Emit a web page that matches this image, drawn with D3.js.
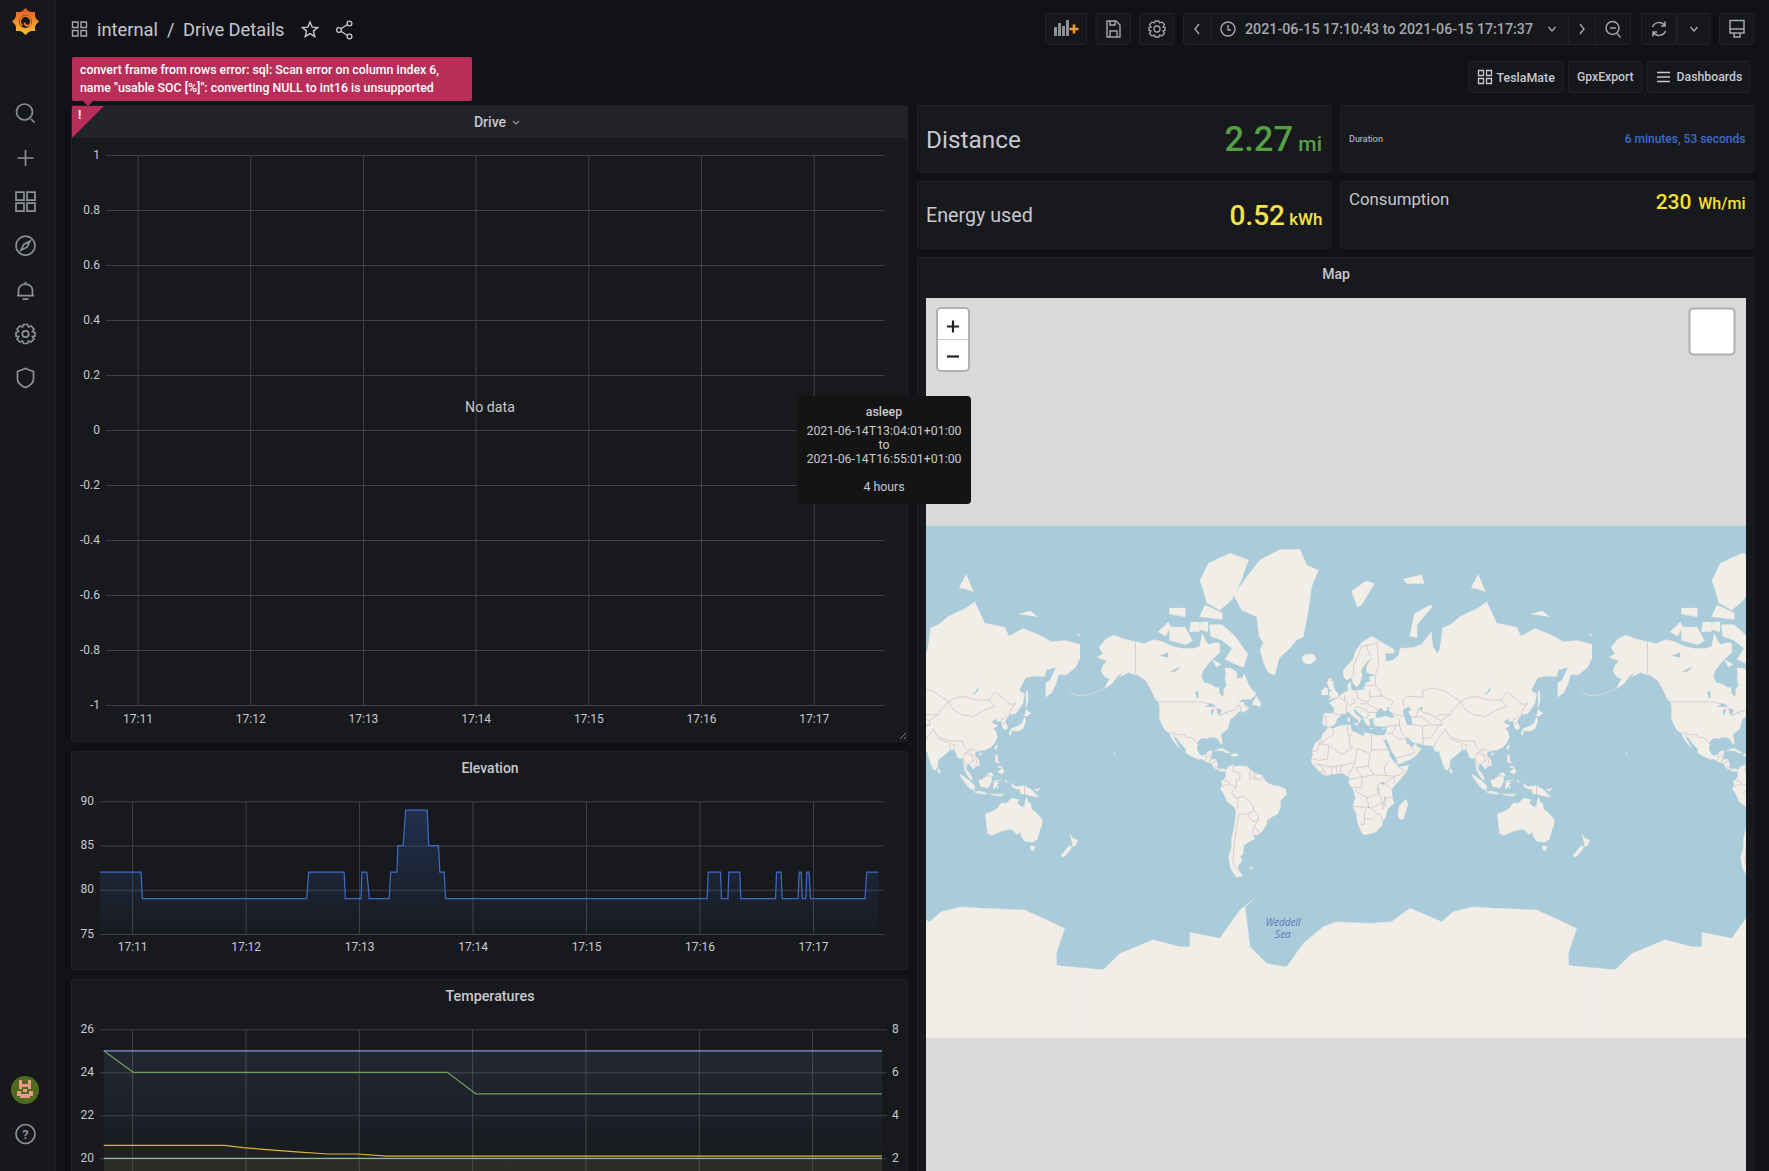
<!DOCTYPE html>
<html>
<head>
<meta charset="utf-8">
<title>Drive Details</title>
<script src="https://cdnjs.cloudflare.com/ajax/libs/d3/7.8.5/d3.min.js"></script>
<style>
  html, body { margin: 0; padding: 0; background: #111217; overflow: hidden; }
  svg { display: block; }
  text { font-family: Roboto, sans-serif; fill: #c7c8d0; }
  .tick text { font-size: 12px; fill: #c7c8d0; }
  .tick line { stroke: #404146; }
  .domain { display: none; }
</style>
</head>
<body>
<svg id="page" width="1769" height="1171"></svg>
<script>
// time range of the dashboard, all series are seconds after rangeStart
const rangeStart = Date.UTC(2021, 5, 15, 17, 10, 43);
const rangeEnd = Date.UTC(2021, 5, 15, 17, 17, 37);
const minuteTicks = [11, 12, 13, 14, 15, 16, 17].map(m => Date.UTC(2021, 5, 15, 17, m, 0));

const driveTicks = [1, 0.8, 0.6, 0.4, 0.2, 0, -0.2, -0.4, -0.6, -0.8, -1];

const elevationTicks = [75, 80, 85, 90];
const elevationSec = [0, 21.7, 22.4, 109.3, 110.3, 129.1, 129.7, 138, 138.5, 141.1, 142.4, 152.9, 153.7, 157, 157.5,
  160.3, 161.6, 173, 173.8, 179, 179.7, 182, 182.7, 321, 321.6, 328.1, 328.6, 332, 332.5, 338.3, 338.8, 357.2, 357.7,
  360.1, 360.7, 369.1, 369.7, 370.7, 371.4, 373.2, 373.7, 374.9, 375.7, 404.5, 405.4, 411.6];
const elevationVal = [82, 82, 79, 79, 82, 82, 79, 79, 82, 82, 79, 79, 82, 82, 85,
  85, 89, 89, 85, 85, 82, 82, 79, 79, 82, 82, 79, 79, 82, 82, 79, 79, 82,
  82, 79, 79, 82, 82, 79, 79, 82, 82, 79, 79, 82, 82];

const tempLeftTicks = [20, 22, 24, 26];
const tempRightTicks = [2, 4, 6, 8];
const tempBlueSec = [2, 414];
const tempBlueVal = [25, 25];
const tempGreenSec = [2, 17.6, 183.9, 199, 414];
const tempGreenVal = [25, 24, 24, 23, 23];
const tempYellowSec = [2, 66, 75.7, 88.3, 104, 120.7, 136.6, 151.8, 414];
const tempYellowVal = [20.6, 20.6, 20.5, 20.4, 20.3, 20.2, 20.2, 20.1, 20.1];
const tempTealSec = [2, 414];
const tempTealVal = [20, 20];

// map outlines, lon/lat
const northAmerica = [[-168,65.6],[-164,66.5],[-166.5,68.3],[-162,70.3],[-156.5,71.3],[-150,70.5],[-141,69.7],[-135,69.3],[-128,70.2],[-122,69.8],[-115,68.5],[-108,68],[-100,68],[-96,68.5],[-94,71.5],[-90,69],[-85,69.5],[-82,69.5],[-81.5,67],[-87,65],[-90,63.5],[-94,61],[-94.5,58.8],[-92.5,57],[-88,56.5],[-85,55.3],[-82.3,55],[-82,52.9],[-80,51.3],[-79,52],[-79,54.5],[-77,56],[-78,58.5],[-77.5,60],[-78,62.4],[-73,62],[-70,61],[-69.5,58.8],[-66,58.8],[-64.5,60.3],[-61.5,56.5],[-60,55],[-56,52.5],[-60,50.2],[-66,50.2],[-69,48.5],[-65,49],[-64.5,47.5],[-61,46],[-64,44.5],[-66,43.7],[-66,45],[-69,44],[-70.5,42.5],[-74,40.5],[-75.5,37.5],[-76,35],[-78,33.8],[-81,31.5],[-80,26.5],[-80.5,25.2],[-82,27],[-83,29],[-85,29.7],[-89,30.2],[-90,29.2],[-94,29.6],[-97.2,27.5],[-97.8,22.5],[-96,19],[-94,18.2],[-91,18.7],[-90.5,21],[-87,21.5],[-88,17.5],[-88.5,15.8],[-84,15.8],[-83.3,12],[-83.5,10],[-81,8.8],[-79.5,9.5],[-77.5,8.6],[-78.2,7.5],[-80,7.3],[-83,8.3],[-85.8,10],[-87.6,13],[-91.5,14],[-94.5,16.2],[-97,15.8],[-102,18],[-105.5,20],[-105.5,22.5],[-109,26],[-112.5,30],[-114.7,31.7],[-112.5,27.5],[-110,23],[-112,25],[-115,28.5],[-117.2,32.6],[-120.5,34.5],[-122.5,37.8],[-124.2,40.3],[-124,46.3],[-124.7,48.4],[-123,49],[-127.5,51],[-130.3,54.5],[-134,58],[-139.5,59.7],[-146,60.8],[-149,60],[-151.7,59.3],[-150,61],[-153.5,59.5],[-158,56.5],[-163,54.7],[-159,58.5],[-162,59],[-165,61],[-164,63],[-161,64.5]];
const southAmerica = [[-77.5,8.6],[-75.5,10.8],[-72,12],[-71.5,10.8],[-68,11.3],[-62,10.7],[-60,8.5],[-57,6],[-52,4.7],[-50,1],[-48,-0.7],[-44,-2.5],[-40,-3],[-35.2,-5.3],[-35,-8.5],[-39,-13],[-39.2,-18],[-41,-22],[-45,-23.7],[-48.5,-26],[-49,-29],[-53,-33.7],[-56,-35],[-58.5,-34.3],[-57,-37],[-62,-39],[-65,-41],[-65.3,-45],[-67.5,-46.5],[-66,-48],[-69,-51],[-68.5,-52.5],[-65.5,-55],[-70,-55.5],[-74,-52],[-75.5,-47],[-73.5,-42],[-73.5,-37],[-71.5,-30],[-70.3,-20],[-72,-17],[-76.2,-14],[-79,-8],[-81.3,-5],[-80,-2.5],[-80.7,0],[-78.5,2],[-77.3,4],[-77.5,7]];
const africa = [[-5.9,35.8],[-2,35.2],[3,36.9],[10,37.3],[11,34],[15,32.4],[19.5,30.5],[20,32.7],[25,32],[29,31],[32.3,31.2],[32.5,30],[33.8,27],[35.5,24],[37.2,21],[37.5,18.5],[39.5,15.5],[43,12],[43.3,11.5],[44.5,10.5],[51.2,11.8],[50,8],[47,4],[42,-1.5],[39.2,-5],[39.5,-10],[40.7,-15],[36,-19],[35,-24],[32.8,-26],[32.5,-29],[28,-33],[25,-34],[20,-34.8],[18.3,-34],[15,-27],[14.5,-22],[11.8,-17],[13.7,-11],[12,-5],[9,-1],[9.7,3.5],[7,4.5],[4.5,6.3],[1,6],[-4,5.2],[-7.5,4.4],[-11,6.7],[-13.5,9.5],[-16.7,12.5],[-17.5,14.7],[-16,19],[-17,21],[-14.5,26.5],[-10,29.5],[-9.5,32],[-6.5,34.5]];
const eurasia = [[-9.5,38.7],[-9,37],[-6.3,36.7],[-5.4,36],[-2,36.8],[0,38.7],[0.5,40.5],[3.2,42],[3.3,43.2],[6,43.1],[8.5,44.3],[10.5,43],[12.5,41.5],[15.7,40],[16,38],[17,39],[16.8,40.3],[18.5,40],[16,41.8],[13,43.7],[12.3,45.3],[13.7,45.6],[16,43.5],[19.4,41.5],[19.5,40],[21,38],[23,36.5],[24,38],[23,40.3],[26,40.9],[28.9,41],[28,41.6],[28,43.5],[30.5,46],[32.5,46],[33.5,44.5],[36.5,45.2],[35,46],[38.5,47],[37,45],[39,44],[41.5,41.5],[38.5,41],[35,42],[31,41.1],[29,41],[26,40.3],[26.5,38.5],[27.5,36.7],[30.5,36.5],[34,36.2],[36,36.7],[35.8,34.5],[34.5,31.5],[32.5,31],[32.5,30],[34.3,27.9],[35,29.5],[37,26],[39,21.5],[42.5,16.5],[43.3,12.7],[45,12.8],[52,15.6],[55,17.2],[59,21.5],[59.8,22.6],[56.5,24.5],[56.3,26.3],[54,24.1],[51.5,24.5],[51.5,26],[50.3,25.5],[48.5,29.8],[50.5,30],[54,26.7],[57,26.5],[61.5,25.2],[67,24.8],[68.5,23.5],[70,21],[72.7,21.2],[73,19],[74.5,14.5],[76.5,9.5],[77.5,8],[79.8,10.3],[80.2,15],[82.5,17],[86.5,20],[88.5,21.7],[91.5,22.5],[92.5,20.3],[94.5,16.5],[97.5,16.5],[98.5,10],[100.5,5.5],[103.5,1.3],[104,2.5],[103,5.5],[100,9],[100.5,13.3],[102.5,12],[105,9],[106.5,10.5],[109.2,12],[108.8,15.5],[106,18.8],[106.5,20.5],[109.5,21.5],[113,22],[117,23.5],[120,26.5],[122,30],[120.5,34],[119,35],[122.5,37],[119,38],[118,39],[121.5,40.8],[121.5,39],[125,39.7],[125,37.5],[126.5,34.5],[129.3,35.3],[128,38.5],[127.5,39.7],[130.5,42.5],[135,43.5],[140,48.5],[141,52.5],[137,54],[142,59],[149,59.5],[155,59.3],[156.5,61.7],[163,62.5],[159,58],[156,57],[156,51.2],[160,53],[163,56.5],[165,60],[170.5,60],[177,62.5],[179.5,65],[186,64.8],[190,66],[180,69],[170,70],[160,69.7],[150,71.5],[140,72.7],[130,71],[127,73],[113,73.8],[106,77.5],[100,76.5],[87,75],[80.5,73.5],[75,72.8],[73,68],[71.5,66.5],[68,68.5],[67,72],[60,69],[54,68.3],[45,68],[44,66.2],[40,64.7],[35,64.3],[34.5,66.7],[41,66.8],[40.5,67.8],[33,69.4],[25,71],[18,69.5],[14,67.5],[12,65],[8,63],[5,61.5],[5.5,59],[8,58],[10.5,59.2],[12.5,56.5],[14.3,55.5],[16.5,56.5],[18.5,59.7],[17.5,61.5],[21.5,64],[25,65.5],[21.5,62.8],[21.5,60.8],[25,60.2],[30,60],[23.5,59.2],[24.2,57.5],[21,57],[19.5,54.4],[14,54],[11,54],[10,57.5],[8,56],[8.7,54],[4.5,52.7],[1.5,50.9],[-1.5,49.7],[-4.7,48.5],[-1.2,46],[-1.7,43.4],[-8.5,43.5]];
const antarctica = [[-180,-78.3],[-163.6,-78.6],[-151.9,-76.1],[-128.5,-73.6],[-109.7,-74.9],[-102.7,-74.9],[-102.7,-72.1],[-81.6,-73.3],[-75.9,-70.8],[-67.5,-66.5],[-57,-63],[-64,-65.6],[-60.5,-74.9],[-48.7,-77.7],[-34.7,-78.2],[-23,-74.3],[-9,-70.8],[0,-69.6],[23.9,-70],[39.1,-69.6],[52,-66],[74.3,-69.6],[82.5,-67],[96.6,-65.6],[110.6,-66],[141,-66.5],[152.8,-68.5],[169.2,-71.2],[163.3,-76.1],[163.5,-78],[180,-78.3],[180,-85.05],[-180,-85.05]];
const greenland = [[-72,78.5],[-61.6,81],[-53.4,82.5],[-39.3,83.4],[-25.3,83.4],[-20.6,82],[-12.4,81.5],[-17,79.7],[-19.4,76.2],[-23,70.9],[-27.6,70.2],[-32,68.3],[-40,65.3],[-43,60],[-44,59.9],[-48,61],[-51,64],[-53.4,67.6],[-51,69.5],[-54,71],[-55.8,75],[-66.3,76.2]];
const australia = [[113.5,-22],[114,-26],[115,-34],[118,-35],[124,-33],[129,-31.6],[133,-32],[135.5,-34.8],[138,-33],[138.5,-35.6],[141,-38.3],[146.5,-39],[150,-37.3],[151.5,-33],[153.5,-28],[153,-25],[149,-21],[146,-19],[145.3,-15],[143.5,-14],[142.5,-10.8],[141.5,-13],[141,-17],[139.5,-17.5],[136,-15],[136.8,-12.2],[132,-11.3],[130,-13],[128,-15],[125,-14.5],[122,-18],[119,-20],[114,-21.8]];
const arcticIslands = [
  [[-80,73.5],[-71,71],[-62,66.5],[-65,62.5],[-72,63.7],[-78,65],[-73,68],[-80,70],[-88,71],[-89,73.5]],
  [[-117,70],[-105,69],[-101,70],[-106,73],[-117,73]],
  [[-125,72],[-118,74],[-116,73],[-120,71]],
  [[-95.6,80.4],[-89.7,82.2],[-74.5,83.1],[-61.6,82.5],[-67.5,80],[-73.3,77.8],[-81.5,76.2],[-90.9,77.3],[-93.3,79.2]],
  [[-96,75],[-80,74.5],[-80,75.7],[-92,77]],
  [[-87,65],[-81,63.5],[-84,62.5]],
  [[-117,75.5],[-106,75],[-106,76.5],[-117,76.5]],
  [[-103,72],[-96,72],[-96,74],[-102,74]],
  [[-96,72.5],[-90,72],[-90,74],[-95,74]],
  [[11,79],[21,80.3],[27,80],[18,77],[15,76.7]],
  [[52,71],[57,70.7],[57,73.5],[68,76.8],[66,77],[55,75.5]],
  [[47,80.5],[60,81],[62,80],[50,80]],
  [[95,79.5],[105,79],[100,81]],
  [[137,75.5],[150,75],[145,76]],
  [[180,71],[182,71.4],[178,71.4]]
];
const otherIslands = [
  [[-59,47.7],[-53,46.8],[-53,48.5],[-56,51.5],[-58,49.5]],
  [[-128,50.5],[-123.5,48.5],[-125,50]],
  [[-24,65.5],[-22,66.4],[-16,66.5],[-13.7,65],[-18,63.5],[-22.5,63.9]],
  [[-5.5,50],[1.3,51.2],[1.7,52.7],[0,53.5],[-1.5,55],[-2,56],[-2,57.7],[-4,57.7],[-3,58.6],[-5,58.6],[-6.2,56.7],[-4.8,54.9],[-3,54],[-4.5,53.2],[-4.5,52],[-5.2,51.7],[-3,51.3]],
  [[-10,52],[-6,52.2],[-5.6,54.6],[-7.5,55.3],[-10,54]],
  [[8.2,39],[9.7,39.2],[9.5,41.2],[8.2,40.8]],
  [[12.5,38],[15.5,38.2],[15,36.7]],
  [[23.5,35.3],[26.3,35.2],[25,35]],
  [[32.5,34.8],[34.5,35.6],[33.8,34.9]],
  [[142,46],[143.5,49.5],[143,54],[142,53.5],[142,48]],
  [[130,31.5],[131.5,31.5],[132,34],[136,33.5],[140,35],[142,39.5],[141,41.5],[139.5,38.5],[136,36.5],[132,35.3],[130.8,33.8]],
  [[140,42],[143,42],[145.3,43.5],[142,45.4],[141.5,43]],
  [[120,23],[121,22],[122,25],[121,25.2]],
  [[108.8,19],[110,18.3],[111,19.7],[110,20]],
  [[79.8,8],[81,6],[82,7],[80.3,9.7]],
  [[95.3,5.5],[98,4],[103.5,0],[106,-3],[105.5,-5.8],[102,-4],[98,1]],
  [[105.3,-6.8],[110,-6.5],[114.5,-7.8],[114,-8.7],[108,-7.8]],
  [[109,1.5],[111.5,2.5],[115,5],[117,7],[119,5],[117.5,3],[118,1],[116,-3.5],[114.5,-4],[110,-3],[109,0]],
  [[119.5,-5.5],[120.5,-3],[122.5,-5],[121.5,-2],[123,-1],[120.5,0.5],[125,1.5],[120,1],[119,-3]],
  [[116,-8.5],[125,-8.5],[127,-8.3],[124,-10],[119,-9]],
  [[131,-0.8],[135,-3.2],[141,-2.6],[146,-5.5],[151,-10.5],[147,-10],[143,-9],[138,-8],[138,-5.5],[133,-4]],
  [[120.5,18.5],[122,18.5],[122,15],[124,13],[120.5,14]],
  [[122,7],[125.5,9.8],[126.5,7],[125,5.8]],
  [[122,11],[125,11],[125,10],[122.5,10]],
  [[148,-5.5],[152,-4.2],[150,-6.5]],
  [[127.5,1.5],[128.5,1],[128,-0.5]],
  [[145,-41],[148.2,-41],[147.5,-43.5],[146,-43.5]],
  [[172.7,-34.5],[175.5,-37],[178.5,-37.7],[176.5,-41],[175,-41.5],[174.5,-38.8]],
  [[172.5,-40.7],[174.3,-41.7],[171,-45],[168.5,-46.6],[166.5,-46],[170,-43]],
  [[49.3,-12],[50.5,-15.5],[47.5,-24.9],[45,-25.5],[43.5,-23],[44.5,-16.5]],
  [[-85,22],[-80,23.1],[-74.2,20.2],[-77.5,19.9],[-78,21]],
  [[-74.4,18.4],[-71,19.9],[-68.4,18.6],[-71.5,17.7]],
  [[-61,-51.5],[-58,-51.5],[-59.5,-52.3]],
  [[-156,20],[-155,19.7],[-155.7,19]]
];
const lakes = [
  [[47,45],[51,46.8],[53,45],[50.5,44.3],[53,41.5],[53.8,37],[50,37.3],[49,39.5],[47.5,43]],
  [[-92,46.8],[-88,48.5],[-85,47],[-87.5,46.5]],
  [[-87.5,41.7],[-85.5,45.8],[-88,45]],
  [[-84,46],[-80,45],[-82,43],[-83.5,44]],
  [[-83,41.7],[-79,42.8],[-80,42.4]],
  [[-79.5,43.3],[-76.3,44],[-76.5,43.4]],
  [[-124,66],[-118,67],[-118,65.5]],
  [[-117,61],[-109,62.8],[-113,61]],
  [[-99,53],[-97,54],[-96.5,50.5],[-98,51]],
  [[103.7,51.6],[109.5,55.7],[108,53.5]],
  [[58.5,46.5],[61,46.5],[60,44.5]],
  [[32,0],[34,0],[33,-3]],
  [[29,-4],[29.5,-3.5],[31,-8],[30.5,-8]],
  [[34,-10],[35,-11],[34.5,-14]]
];
const borders = [
  [[-141,69.7],[-141,60.3],[-137,59],[-133,56],[-130.3,54.8]],
  [[-123,49],[-95,49],[-89,48],[-84.5,46.5],[-82.5,45],[-82.5,42.5],[-79,43],[-76,44.5],[-71,45],[-69,47.3],[-67.5,47],[-67,45]],
  [[-117.2,32.6],[-114.7,32.5],[-111,31.3],[-106.5,31.7],[-104.5,29.5],[-101.5,29.8],[-97.2,25.9]],
  [[-92,14.5],[-91,17.8],[-89,17.8],[-88.3,18.4]],
  [[-89,14],[-88.5,15.8]], [[-87.7,13],[-83.2,15]], [[-85.7,11],[-83.7,11]], [[-83,8.5],[-82.7,9.5]], [[-77.3,8.5],[-77.8,7.3]],
  [[-72,11.8],[-72.5,7.5],[-67.5,6],[-67.5,2],[-70,1.5],[-70,-4]],
  [[-60,8.5],[-61,5],[-60,1.5]], [[-60,5.3],[-57,2],[-52,2.2],[-51,4]], [[-57,6],[-57,2]],
  [[-70,-4],[-73.5,-7.5],[-70.5,-11],[-69,-11],[-65.5,-10],[-60,-14],[-58,-17],[-58,-20],[-55,-22],[-54.5,-25.5],[-57.5,-30],[-53.5,-33.7]],
  [[-80.2,-3.5],[-75,-1],[-70,-4]], [[-78.5,1.5],[-75,0]], [[-70.3,-18.3],[-69,-17.5],[-69,-11]],
  [[-68.5,-22],[-70.5,-33],[-71.5,-40],[-72.5,-50],[-68.5,-52.5]], [[-68.5,-22],[-62.5,-22],[-58,-20]], [[-62.5,-22],[-58,-27],[-54.5,-25.5]], [[-58.3,-34],[-58,-30.2]],
  [[-2,35],[-1.5,32],[-8.7,27.7],[-13,27.7]], [[-8.7,27.3],[-12,26],[-13,21.3],[-17,21]], [[-12,26],[-5,25],[-6,16],[-12,15],[-16.5,16]],
  [[-5,25],[1,21],[4,19],[12,23.5]], [[9,30],[10,24],[12,23.5]], [[8.5,37],[8,33],[9.5,30.3],[11.5,33]], [[25,31.5],[25,20]], [[25,22],[36.8,22]],
  [[15,23],[24,19.5]], [[15,23],[13.5,14]], [[3.5,11.5],[13.5,13.5]], [[-12,12.5],[-5,10.5],[0,11],[3.5,11.5],[3,6.3]], [[-3,5],[-3,11]], [[1,6],[0,11]],
  [[8.5,4.7],[13.5,13]], [[24,19.5],[22.5,11]], [[14.5,10],[15,7.5],[18.5,3.5],[27,5],[35,4.5],[41,4],[34,-1],[30,-1],[29,-5],[30,-8],[22,-11],[13,-6]],
  [[14.5,10],[22.5,11],[27,5]], [[-15,12.5],[-12,12.5],[-8,8],[-11,6.7]], [[-8,8],[-7.5,4.4]], [[10,2],[18.5,3.5]], [[11,-4],[18,-4],[18.5,3.5]],
  [[36.5,14.5],[34,10],[35,4.5]], [[43,11],[48,8],[45,5],[41,4],[41,-1.5]], [[12,-17],[23,-17.5],[22,-11]], [[17,-28.5],[20,-28.5],[20,-22],[21,-18]], [[20,-25],[25,-25.5],[29,-22]],
  [[25,-18],[29,-22],[31.5,-22.5],[32.5,-26]], [[22,-17.5],[25,-18],[33,-14],[30,-8]], [[34,-11.5],[40.5,-10.5]], [[33,-14],[35,-17],[34,-11]], [[33,-19],[33,-14]], [[34,-1],[39,-4.7]],
  [[-1.7,43.4],[3.2,42.5]], [[2.5,51],[6,49.5],[8,49],[7.5,47.5],[7,44]], [[14.2,54],[15,51]], [[12,50.5],[13.5,48.7],[9.5,47.5]], [[6,49.5],[6,52]], [[15,51],[19,49.5],[22.5,49]], [[23.5,54],[24,50.5],[22.5,49]],
  [[17,48],[22.5,48.2]], [[13.5,46.5],[16.5,46.5],[19,45.7],[22.5,44],[22.5,41.3],[20.5,40.8]], [[22.5,48],[29.5,45.3]], [[22.5,44],[28.5,43.7]], [[21,56],[28,56],[27.5,59.5]],
  [[28,60.5],[30,63],[29,69.5]], [[12,59],[12.5,63],[18,68.5],[25,69],[29,69.5]], [[24,66],[21,69]], [[28,56],[32,53],[31,51.5],[24,51.5]], [[31,52],[40,49.5],[38.5,47]],
  [[-7,37],[-7,42],[-8.5,42]], [[36,36.5],[42,37],[44.5,37.2],[44.5,39.5],[43.5,41.3]], [[40,43.5],[48,41.8]], [[44.5,37.2],[46,33],[48.5,30]], [[42,37],[41,34.5],[39,32.3],[36,32.5]],
  [[39,32.3],[44,29],[48,29]], [[43,16.5],[52,19],[55,20],[55,22],[52,24]], [[54,37.5],[61,36.5],[61,31.5],[61.5,25.5]], [[61,36.5],[66.5,37.3],[74.5,37.2]], [[61,29.5],[66.5,29.5],[70,33.5],[71.5,36.5],[74.5,37.2]],
  [[68.5,23.8],[71,28],[74.5,32],[77,35]], [[77,35],[79,31],[81,30],[88,28],[92,27.5],[97,28]], [[80,29],[88,26.5]], [[88,26],[89,22]], [[92,22.5],[92,25],[89,26]],
  [[97,28],[98.5,24],[101,21.5],[100,20],[98,17],[99,11]], [[101,21.5],[103,22.5],[107.5,21.5]], [[102,22],[104,19],[107,16],[107.5,12.5],[105,10.5]], [[100,20],[104,18],[105.5,14.5],[103,14],[102.5,12]],
  [[87.5,49],[91,45],[97,42.7],[105,41.7],[112,44.8],[116,46],[120,47],[116,49.8],[107,49.8],[98,51.5],[92,50.7],[87.5,49]], [[116,49.8],[120,53.5],[127,50],[131,47.8],[135,48.3],[131,45],[130.5,42.5]],
  [[87.5,49],[82.5,45.5],[80,42.5],[74,43],[70,41.5],[66,43],[61,44],[58,45.5],[56,41.3],[53,42]], [[48,46.5],[47,50],[51,51.5],[61,51],[61,54],[69,55],[77,53.5],[83,51],[87.5,49]],
  [[56,41.3],[60,42],[66,38]], [[70,41],[74,39.5]], [[80,42.5],[74,39.5],[74.5,37.2]], [[124.5,40],[130.5,42.5]], [[126,38],[128.5,38.5]], [[141,-2.6],[141,-9]], [[109.5,1.5],[115,4.5],[117.5,4]]
];
const aleutians = [[-163,54.7],[-172,52.5],[-180,51.8],[-187,52.8]];
const seaLabel = { name: ["Weddell", "Sea"], lon: -37.3, lat: -71 };

const panelFill = "#17191d";
const panelStroke = "#212328";
const redFill = "#b92e58";

const svg = d3.select("#page");
const defs = svg.append("defs");

function panel(x0, y0, x1, y1) {
  svg.append("rect").attr("x", x0 + .5).attr("y", y0 + .5).attr("width", x1 - x0 - 1).attr("height", y1 - y0 - 1)
    .attr("rx", 2).attr("fill", panelFill).attr("stroke", panelStroke);
}
function label(txt, x, y, size, opts) {
  opts = opts || {};
  return svg.append("text").text(txt).attr("x", x).attr("y", y)
    .attr("dominant-baseline", opts.base || "central")
    .attr("text-anchor", opts.anchor || "start")
    .attr("font-size", size)
    .attr("font-weight", opts.weight || 400)
    .style("fill", opts.fill || "#c7c8d0");
}
function timeAxis(x, y, tickY, gridTop) {
  // vertical grid lines, labels below (tickY null = no labels, the axis is under the fold)
  const axis = d3.axisBottom(x).tickValues(minuteTicks).tickSize(gridTop - y).tickPadding(0);
  axis.tickFormat(tickY === null ? "" : d3.utcFormat("%H:%M"));
  const g = svg.append("g").attr("transform", `translate(0,${y})`).call(axis);
  if (tickY !== null) g.selectAll("text").attr("y", tickY - y).attr("dy", ".35em");
}
function yGrid(y, ticks, x0, x1, labelX, shift) {
  const g = svg.append("g").attr("transform", `translate(${x1},0)`)
    .call(d3.axisLeft(y).tickValues(ticks).tickFormat(d => String(d)).tickSize(x1 - x0).tickPadding(0));
  g.selectAll("text").attr("x", labelX - x1).attr("y", shift || 0).attr("text-anchor", "end");
}

// ---- page chrome
svg.append("rect").attr("width", 1769).attr("height", 1171).attr("fill", "#111217");
svg.append("rect").attr("width", 55).attr("height", 1171).attr("fill", "#16181c");
svg.append("line").attr("x1", 55).attr("x2", 55).attr("y2", 1171).attr("stroke", "#22242a");

// logo
const logoGrad = defs.append("linearGradient").attr("id", "logo").attr("x1", 0).attr("x2", 0).attr("y1", 0).attr("y2", 1);
logoGrad.append("stop").attr("offset", 0).attr("stop-color", "#e8562a");
logoGrad.append("stop").attr("offset", 1).attr("stop-color", "#fbc530");
const logo = svg.append("g").attr("transform", "translate(25.5,21.5)");
const gearPts = d3.range(0, 24).map(i => [i / 24 * 2 * Math.PI, i % 3 == 0 ? 13.5 : 11]);
logo.append("path").attr("d", d3.lineRadial().curve(d3.curveLinearClosed)(gearPts)).attr("fill", "url(#logo)");
logo.append("circle").attr("r", 6.4).attr("fill", "#15171b");
logo.append("path").attr("d", "M-3,4A5.2,5.2 0 1 1 5,1.5A3,3 0 1 1 -1,1").attr("fill", "none").attr("stroke", "#f07f2a").attr("stroke-width", 1.8);

// sidebar icons
const iconColor = "#8e9099";
function icon(x, y, d, color, w) {
  return svg.append("path").attr("transform", `translate(${x},${y})`).attr("d", d)
    .attr("fill", "none").attr("stroke", color || iconColor).attr("stroke-width", w || 1.7);
}
const gridIcon = "M-9.5,-9.5h8v8h-8zM1.5,-9.5h8v8h-8zM-9.5,1.5h8v8h-8zM1.5,1.5h8v8h-8z";
icon(25.5, 113, "M7,-1A8,8 0 1 1 -9,-1A8,8 0 1 1 7,-1M5.5,6L9,9.5");
icon(25.5, 158, "M-8,0H8M0,-8V8");
icon(25.5, 201.7, gridIcon);
icon(25.5, 245.7, "M9.5,0A9.5,9.5 0 1 1 -9.5,0A9.5,9.5 0 1 1 9.5,0M4.5,-4.5L1.5,1.5L-4.5,4.5L-1.5,-1.5Z");
icon(25.5, 290.7, "M-7,5V0C-7,-4 -4,-6.5 0,-6.5C4,-6.5 7,-4 7,0V5M-8.5,5H8.5M-3,8.5H3M0,-9V-7");
icon(25.5, 334, "M3.2,0A3.2,3.2 0 1 1 -3.2,0A3.2,3.2 0 1 1 3.2,0M-2,-9.5H2L3,-7L5.6,-8L8.5,-5L7,-2.5L9.5,-1.5V2L7,2.5L8.5,5L5.6,8L3,7L2,9.5H-2L-3,7L-5.6,8L-8.5,5L-7,2.5L-9.5,2V-1.5L-7,-2.5L-8.5,-5L-5.6,-8L-3,-7Z");
icon(25.5, 378, "M0,-9.5L8,-6.5V1C8,5 4,8 0,9.5C-4,8 -8,5 -8,1V-6.5Z");
// avatar
const avatar = svg.append("g").attr("transform", "translate(25,1090)");
avatar.append("circle").attr("r", 14).attr("fill", "#4e6b20");
[[-6,-10,3,9],[3,-10,3,9],[-3,-6,6,3],[-2,-1,4,3],[-8,1,4,5],[4,1,4,5],[-5,4,10,4]].forEach(r => {
  avatar.append("rect").attr("x", r[0]).attr("y", r[1]).attr("width", r[2]).attr("height", r[3]).attr("fill", "#ea9a86");
});
icon(25.5, 1134, "M9.5,0A9.5,9.5 0 1 1 -9.5,0A9.5,9.5 0 1 1 9.5,0");
label("?", 25.5, 1134.5, 13, { anchor: "middle", weight: 700, fill: iconColor });

// ---- top bar
const topColor = "#a5a7ae";
icon(79.5, 29, "M-7,-7h5.5v5.5h-5.5zM1.5,-7h5.5v5.5h-5.5zM-7,1.5h5.5v5.5h-5.5zM1.5,1.5h5.5v5.5h-5.5z", topColor, 1.4);
label("internal", 97, 29, 18.3);
label("/", 167, 29, 18.3);
label("Drive Details", 183, 29, 18.3);
const starPts = d3.range(0, 10).map(i => [i / 10 * 2 * Math.PI, i % 2 ? 3.6 : 8]);
svg.append("path").attr("transform", "translate(310,30)").attr("d", d3.lineRadial().curve(d3.curveLinearClosed)(starPts))
  .attr("fill", "none").attr("stroke", "#c7c8d0").attr("stroke-width", 1.4);
icon(344, 30, "M5,-6.5L-5,0L5,6.5", "#c7c8d0", 1.3);
[[5.5,-6.5],[-5,0],[5.5,6.5]].forEach(p => svg.append("circle").attr("cx", 344 + p[0]).attr("cy", 30 + p[1]).attr("r", 2.4)
  .attr("fill", "#111217").attr("stroke", "#c7c8d0").attr("stroke-width", 1.3));

const topButtons = [[1045,1087],[1095.5,1131],[1139,1174.5],[1183,1631],[1641,1677],[1677,1710.5],[1719,1754.5]];
topButtons.forEach(b => {
  svg.append("rect").attr("x", b[0] + .5).attr("y", 13.5).attr("width", b[1] - b[0] - 1).attr("height", 31)
    .attr("rx", 2).attr("fill", "#15171b").attr("stroke", "#212328");
});
[1210.5, 1568.5, 1595.5].forEach(x => svg.append("line").attr("x1", x).attr("x2", x).attr("y1", 14).attr("y2", 44).attr("stroke", "#212328"));
// add panel
[[1054,9],[1058,13],[1062,10],[1066,16]].forEach(b => svg.append("rect").attr("x", b[0]).attr("y", 36 - b[1]).attr("width", 3).attr("height", b[1]).attr("fill", "#8e9099"));
icon(1074, 29, "M-4.5,0H4.5M0,-4.5V4.5", "#f29a2e", 2.6);
icon(1113, 29, "M-6,-8H3L7,-4V8H-6ZM-3,8V2H4V8M-3,-8V-4H2V-8", topColor, 1.4);
icon(1157, 29, "M3,0A3,3 0 1 1 -3,0A3,3 0 1 1 3,0M-1.8,-8H1.8L2.6,-6L5,-7L7.5,-4.5L6,-2L8,-1.5V1.5L6,2L7.5,4.5L5,7L2.6,6L1.8,8H-1.8L-2.6,6L-5,7L-7.5,4.5L-6,2L-8,1.5V-1.5L-6,-2L-7.5,-4.5L-5,-7L-2.6,-6Z", topColor, 1.3);
icon(1197, 29, "M2,-5L-2,0L2,5", topColor, 1.4);
icon(1228, 29, "M7,0A7,7 0 1 1 -7,0A7,7 0 1 1 7,0M0,-4V1H3", topColor, 1.4);
label("2021-06-15 17:10:43 to 2021-06-15 17:17:37", 1245, 29, 14.25, { weight: 500, fill: topColor });
icon(1552, 29, "M-3.5,-2L0,2L3.5,-2", topColor, 1.4);
icon(1582, 29, "M-2,-5L2,0L-2,5", topColor, 1.4);
icon(1613, 29, "M6,-1A6.5,6.5 0 1 1 -7,-1A6.5,6.5 0 1 1 6,-1M-3,-1H3M4,4.5L7.5,8.5", topColor, 1.4);
icon(1659, 29, "M-6.5,-2A7,7 0 0 1 6,-3M6,-7.5V-3H2M6.5,2A7,7 0 0 1 -6,3M-6,7.5V3H-2", topColor, 1.5);
icon(1694, 29, "M-3.5,-2L0,2L3.5,-2", topColor, 1.4);
icon(1737, 29, "M-7,-8.5H7V4H-7ZM-7,0H7M-3,4V8H3V4", topColor, 1.5);

const linkButtons = [[1468,1563.5],[1568,1642.5],[1647,1750]];
linkButtons.forEach(b => {
  svg.append("rect").attr("x", b[0] + .5).attr("y", 61.5).attr("width", b[1] - b[0] - 1).attr("height", 31)
    .attr("rx", 2).attr("fill", "#15171b").attr("stroke", "#212328");
});
icon(1485, 77, "M-6.5,-6.5h5v5h-5zM1.5,-6.5h5v5h-5zM-6.5,1.5h5v5h-5zM1.5,1.5h5v5h-5z", "#c7c8d0", 1.3);
label("TeslaMate", 1496.5, 77, 12.45, { weight: 500 });
label("GpxExport", 1577, 77, 12.2, { weight: 500 });
icon(1663.5, 77, "M-6.5,-4.5H6.5M-6.5,0H6.5M-6.5,4.5H6.5", "#c7c8d0", 1.4);
label("Dashboards", 1676.5, 77, 12.3, { weight: 500 });

// ---- Drive panel
panel(71, 105, 908, 742);
svg.append("rect").attr("x", 72).attr("y", 106).attr("width", 835).attr("height", 32).attr("fill", "#212328");
label("Drive", 490, 122, 14, { anchor: "middle", weight: 500 });
icon(516, 122.5, "M-3,-1.5L0,1.5L3,-1.5", "#9a9ca3", 1.1);
const driveX = d3.scaleUtc().domain([rangeStart, rangeEnd]).range([105.6, 883.2]);
const driveY = d3.scaleLinear().domain([-1, 1]).range([705, 155]);
yGrid(driveY, driveTicks, 106, 884, 100);
timeAxis(driveX, 705, 718.5, 155);
label("No data", 490, 407, 14.2, { anchor: "middle" });
icon(902, 737, "M4,-4L-2,2M4,0L2,2", "#7d7f85", 1);

// ---- Elevation panel
panel(71, 751, 908, 970);
label("Elevation", 490, 768, 14, { anchor: "middle", weight: 500 });
const elevX = d3.scaleUtc().domain([rangeStart, rangeEnd]).range([100, 883]);
const elevY = d3.scaleLinear().domain([75, 90]).range([934, 801.3]);
yGrid(elevY, elevationTicks, 100, 884, 94, -0.7);
timeAxis(elevX, 934, 946.7, 801.3);
const elevationData = elevationSec.map((s, i) => ({ t: rangeStart + s * 1000, v: elevationVal[i] }));
const elevGrad = defs.append("linearGradient").attr("id", "elevFill").attr("x1", 0).attr("x2", 0).attr("y1", 0).attr("y2", 1);
elevGrad.append("stop").attr("offset", 0).attr("stop-color", "#3c6ed0").attr("stop-opacity", .27);
elevGrad.append("stop").attr("offset", 1).attr("stop-color", "#3c6ed0").attr("stop-opacity", .02);
svg.append("path").datum(elevationData).attr("fill", "url(#elevFill)")
  .attr("d", d3.area().x(d => elevX(d.t)).y0(elevY(75)).y1(d => elevY(d.v)));
svg.append("path").datum(elevationData).attr("fill", "none").attr("stroke", "#3d6cc8").attr("stroke-width", 1.2)
  .attr("d", d3.line().x(d => elevX(d.t)).y(d => elevY(d.v)));

// ---- Temperatures panel
panel(71, 979, 908, 1200);
label("Temperatures", 490, 996, 14.3, { anchor: "middle", weight: 500 });
const tempX = d3.scaleUtc().domain([rangeStart, rangeEnd]).range([100, 882]);
const tempY = d3.scaleLinear().domain([20, 26]).range([1158.3, 1029.3]);
const tempYRight = d3.scaleLinear().domain([2, 8]).range([1158.3, 1029.3]);
yGrid(tempY, tempLeftTicks, 100, 887, 94, -1);
const rightAxis = svg.append("g").attr("transform", "translate(887,0)")
  .call(d3.axisRight(tempYRight).tickValues(tempRightTicks).tickFormat(d => String(d)).tickSize(0).tickPadding(5));
rightAxis.selectAll("text").attr("y", -1);
timeAxis(tempX, 1171, null, 1029.3);
const tempBase = tempY(18);
const tempLine = d3.line().x(d => tempX(d.t)).y(d => tempY(d.v));
const tempArea = d3.area().x(d => tempX(d.t)).y0(tempBase).y1(d => tempY(d.v));
const tempGrad = defs.append("linearGradient").attr("id", "tempFill").attr("gradientUnits", "userSpaceOnUse")
  .attr("x1", 0).attr("x2", 0).attr("y1", tempY(25)).attr("y2", tempY(20));
tempGrad.append("stop").attr("offset", 0).attr("stop-color", "#7f9fe0").attr("stop-opacity", .11);
tempGrad.append("stop").attr("offset", 1).attr("stop-color", "#7f9fe0").attr("stop-opacity", .01);
const tempSeries = [
  { sec: tempTealSec, val: tempTealVal, color: "#8fb8a8", fill: "#d8cfa0", op: .08 },
  { sec: tempYellowSec, val: tempYellowVal, color: "#d8b92c", fill: "#e0c030", op: .03 },
  { sec: tempGreenSec, val: tempGreenVal, color: "#6f9f58", fill: "#6f9f58", op: 0 },
  { sec: tempBlueSec, val: tempBlueVal, color: "#7c9cd8", fill: "url(#tempFill)", op: 1 }
];
tempSeries.forEach(s => {
  const pts = s.sec.map((t, i) => ({ t: rangeStart + t * 1000, v: s.val[i] }));
  svg.append("path").datum(pts).attr("fill", s.fill).attr("fill-opacity", s.op).attr("d", tempArea);
});
tempSeries.forEach(s => {
  const pts = s.sec.map((t, i) => ({ t: rangeStart + t * 1000, v: s.val[i] }));
  svg.append("path").datum(pts).attr("fill", "none").attr("stroke", s.color).attr("stroke-width", 1.2).attr("d", tempLine);
});

// ---- stat panels
panel(917, 105, 1331.5, 172.5);
panel(1340, 105, 1754.5, 172.5);
panel(917, 181, 1331.5, 248.5);
panel(1340, 181, 1754.5, 248.5);
label("Distance", 926, 139, 24.4);
const green = "#56a044";
label("2.27", 1293, 150.7, 34.5, { anchor: "end", base: "auto", weight: 500, fill: green });
label("mi", 1322, 150.7, 21, { anchor: "end", base: "auto", weight: 500, fill: green });
label("Duration", 1349, 139, 9);
label("6 minutes, 53 seconds", 1745.5, 139, 12, { anchor: "end", weight: 500, fill: "#3d6cc8" });
label("Energy used", 926, 215, 19.7);
const yellow = "#f6e34c";
label("0.52", 1285, 225, 28, { anchor: "end", base: "auto", weight: 500, fill: yellow });
label("kWh", 1322.5, 225, 17, { anchor: "end", base: "auto", weight: 500, fill: yellow });
label("Consumption", 1349, 199.3, 16.8);
label("230", 1691.5, 209, 21, { anchor: "end", base: "auto", weight: 500, fill: "#f6e030" });
label("Wh/mi", 1745.5, 209, 16, { anchor: "end", base: "auto", weight: 500, fill: "#f6e030" });

// ---- map panel
panel(917, 257, 1754.5, 1200);
label("Map", 1336, 274, 14, { anchor: "middle", weight: 500 });
defs.append("clipPath").attr("id", "mapClip").append("rect").attr("x", 926).attr("y", 298).attr("width", 820).attr("height", 880);
const map = svg.append("g").attr("clip-path", "url(#mapClip)");
map.append("rect").attr("x", 926).attr("y", 298).attr("width", 820).attr("height", 880).attr("fill", "#d9d9d9");

// web mercator at zoom 1, one world is 512px wide
const lonX = d3.scaleLinear().domain([-180, 180]).range([1080, 1592]);
const mercY = d3.scaleLinear().domain([-Math.PI, Math.PI]).range([1038, 526]);
const latY = lat => mercY(d3.geoMercatorRaw(0, lat * Math.PI / 180)[1]);
const geoLine = d3.line().x(d => lonX(d[0])).y(d => latY(d[1]));

const landShapes = [northAmerica, southAmerica, africa, eurasia, antarctica, greenland, australia].concat(arcticIslands, otherIslands);
const worldCopies = [-512, 0, 512];
worldCopies.forEach(dx => {
  const w = map.append("g").attr("transform", `translate(${dx},0)`);
  w.append("rect").attr("x", lonX(-180)).attr("y", latY(85.05)).attr("width", lonX(180) - lonX(-180) + .5)
    .attr("height", latY(-85.05) - latY(85.05)).attr("fill", "#aacbd9");
  w.selectAll("path.land").data(landShapes).join("path").attr("class", "land")
    .attr("d", d => geoLine(d) + "Z").attr("fill", "#f1eee8").attr("stroke", "#f1eee8").attr("stroke-width", .4);
  w.append("path").attr("d", geoLine(aleutians)).attr("fill", "none").attr("stroke", "#e6e8e4").attr("stroke-width", .6);
  w.selectAll("path.lake").data(lakes).join("path").attr("class", "lake")
    .attr("d", d => geoLine(d) + "Z").attr("fill", "#aacbd9");
  w.selectAll("path.border").data(borders).join("path").attr("class", "border")
    .attr("d", geoLine).attr("fill", "none").attr("stroke", "#c8b3c2").attr("stroke-width", .6);
});
map.selectAll("text.sea").data(seaLabel.name).join("text").attr("class", "sea").text(d => d)
  .attr("x", lonX(seaLabel.lon)).attr("y", (d, i) => latY(seaLabel.lat) + (i - .5) * 12)
  .attr("text-anchor", "middle").attr("dominant-baseline", "central")
  .attr("font-size", 10).attr("font-style", "italic")
  .style("font-family", "'Open Sans', sans-serif").style("fill", "#5b78b8");

// leaflet controls
svg.append("rect").attr("x", 937).attr("y", 308).attr("width", 32).attr("height", 63).attr("rx", 4)
  .attr("fill", "#fff").attr("stroke", "#b0b0b0").attr("stroke-width", 2);
svg.append("line").attr("x1", 938).attr("x2", 968).attr("y1", 339.5).attr("y2", 339.5).attr("stroke", "#ccc");
icon(953, 326.5, "M-6,0H6M0,-6V6", "#222", 2.2);
icon(953, 356.5, "M-6,0H6", "#222", 2.2);
svg.append("rect").attr("x", 1689.5).attr("y", 308.5).attr("width", 45).attr("height", 46).attr("rx", 4)
  .attr("fill", "#fff").attr("stroke", "#b0b0b0").attr("stroke-width", 2);

// ---- error message
svg.append("path").attr("d", "M72,106H104L72,138Z").attr("fill", redFill);
label("!", 79.5, 115, 12, { anchor: "middle", weight: 700, fill: "#fff" });
svg.append("rect").attr("x", 72).attr("y", 57).attr("width", 400).attr("height", 44).attr("rx", 2).attr("fill", redFill);
svg.append("path").attr("d", "M83,101H93L88,106Z").attr("fill", redFill);
label('convert frame from rows error: sql: Scan error on column index 6,', 80, 70, 12.35, { weight: 500, fill: "#fff" });
label('name "usable SOC [%]": converting NULL to int16 is unsupported', 80, 88, 12.35, { weight: 500, fill: "#fff" });

// ---- tooltip on the timeline
const tooltipLines = [["asleep", 412, 500], ["2021-06-14T13:04:01+01:00", 431, 400], ["to", 445, 400], ["2021-06-14T16:55:01+01:00", 459, 400], ["4 hours", 487, 400]];
svg.append("rect").attr("x", 797).attr("y", 396).attr("width", 174).attr("height", 108).attr("rx", 4).attr("fill", "#141414");
tooltipLines.forEach(l => label(l[0], 884, l[1], 12.35, { anchor: "middle", weight: l[2] }));
</script>
</body>
</html>
